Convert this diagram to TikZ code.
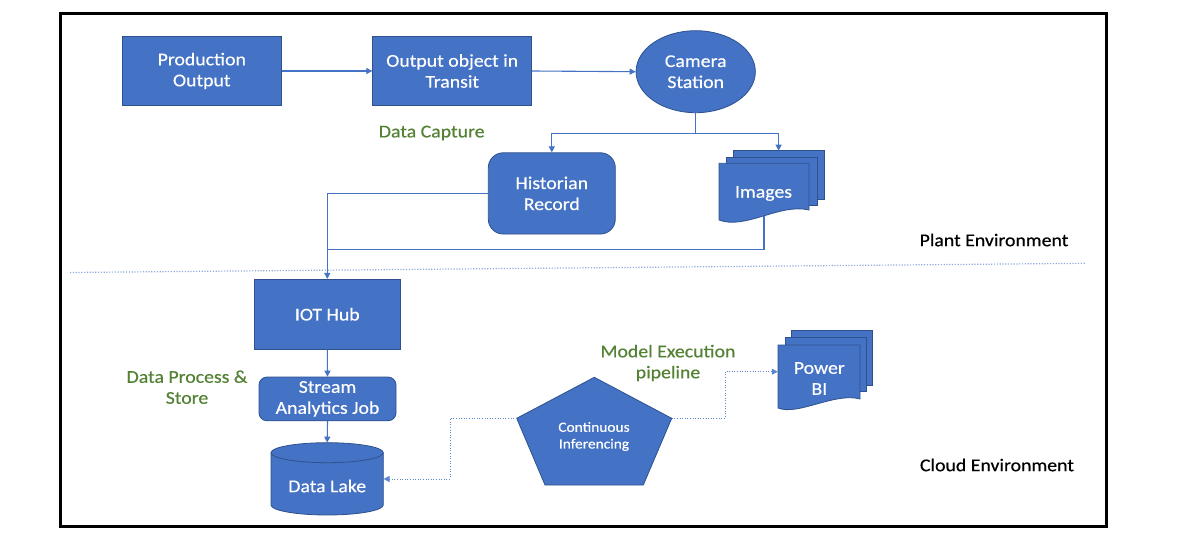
\documentclass[tikz,border=0pt]{standalone}
\usepackage{fontspec}
\setmainfont{Carlito}[FakeStretch=1.1,FakeBold=0.4]
\usetikzlibrary{arrows.meta,shapes.geometric,calc}
\definecolor{fillblue}{HTML}{4472C4}
\definecolor{edgeblue}{HTML}{2F528F}
\definecolor{linkblue}{HTML}{4472C4}
\definecolor{dotblue}{HTML}{5B86D0}
\definecolor{sepblue}{HTML}{8FAADC}
\definecolor{labgreen}{HTML}{548235}
\newcommand{\lblfont}{\fontsize{18}{21}\selectfont}
\newcommand{\smallfont}{\fontsize{14}{16.7}\selectfont}
\begin{document}
\begin{tikzpicture}[x=1pt,y=-1pt,
  box/.style={draw=edgeblue, fill=fillblue, line width=0.8pt, text=white, align=center, inner sep=0pt, font=\lblfont},
  shapestyle/.style={draw=edgeblue, fill=fillblue, line width=0.8pt},
  anchorbox/.style={draw=none, inner sep=0pt},
  wlabel/.style={text=white, align=center, inner sep=0pt, font=\lblfont},
  glabel/.style={text=labgreen, align=center, inner sep=0pt, font=\lblfont},
  klabel/.style={text=black, align=center, inner sep=0pt, font=\lblfont},
  link/.style={draw=linkblue, line width=1.1pt},
  conn/.style={link, -{Triangle[length=6pt,width=6pt]}},
  dotconn/.style={draw=dotblue, line width=1pt, dash pattern=on 1pt off 1.6pt, -{Triangle[length=6pt,width=6pt]}}
]
\useasboundingbox (0,0) rectangle (1200,538);
\fill[white] (0,0) rectangle (1200,538);

% outer frame
\draw[line width=3pt, black] (60,13.3) rectangle (1106,526);

% separator
\draw[sepblue, line width=1.2pt, dash pattern=on 1.2pt off 1.6pt] (70,272.5) -- (1085,263.3);

% top row
\node[box, minimum width=159pt, minimum height=69pt] (prod) at (201.8,71) {Production\\Output};
\node[box, minimum width=159pt, minimum height=69pt] (trans) at (452.2,71) {Output object in\\Transit};
\node[box, ellipse, minimum width=119.3pt, minimum height=82pt] (cam) at (695.7,71.7) {Camera\\Station};

% historian
\node[box, rounded corners=15pt, minimum width=127pt, minimum height=81.3pt] (hist) at (551.8,193.4) {Historian\\Record};

% images stack
\filldraw[shapestyle] (733,150.7) rectangle (824,199.3);
\filldraw[shapestyle] (726,157) rectangle (817,205);
\filldraw[shapestyle] (719,163.3) -- (809,163.3) -- (809,210) .. controls (780,203) and (745,230) .. (719,220) -- cycle;
\coordinate (imgtop) at (778.6,150.7);
\node[anchorbox, minimum width=90pt, minimum height=53pt] (img) at (764,189.6) {};
\node[wlabel] (imglbl) at (763.5,193.5) {Images};

% cloud side
\node[box, minimum width=146.7pt, minimum height=70pt] (iot) at (327.3,314.3) {IOT Hub};
\node[box, rounded corners=8pt, minimum width=137pt, minimum height=43.7pt] (stream) at (327.5,398.9) {Stream\\Analytics Job};

% data lake cylinder
\filldraw[shapestyle] (271,452.7) -- (271,505) arc[start angle=180, end angle=360, x radius=56.15pt, y radius=10pt] -- (383.3,452.7) arc[start angle=0, end angle=180, x radius=56.15pt, y radius=10pt] -- cycle;
\draw[draw=edgeblue, line width=0.8pt] (271,452.7) arc[start angle=180, end angle=360, x radius=56.15pt, y radius=10pt];
\node[anchorbox, minimum width=112.3pt, minimum height=72.3pt] (lake) at (327.2,479) {};
\node[wlabel] (lakelbl) at (327.2,486) {Data Lake};

% pentagon
\coordinate (ciT) at (594.3,377.3);
\coordinate (ciR) at (671.7,418.3);
\coordinate (ciBR) at (643.3,485);
\coordinate (ciBL) at (545,485);
\coordinate (ciL) at (516.7,418.3);
\filldraw[shapestyle] (ciT) -- (ciR) -- (ciBR) -- (ciBL) -- (ciL) -- cycle;
\node[wlabel, font=\smallfont] (ci) at (594,436.5) {Continuous\\Inferencing};

% power bi stack
\filldraw[shapestyle] (791.7,330.7) rectangle (872.7,385);
\filldraw[shapestyle] (785.7,337.3) rectangle (866.7,391.7);
\filldraw[shapestyle] (778,345) -- (860,345) -- (860,399) .. controls (835,392) and (798,416) .. (778,408) -- cycle;
\node[anchorbox, minimum width=82pt, minimum height=53.4pt] (pbi) at (819,371.7) {};
\node[wlabel] (pbilbl) at (819.3,378.5) {Power\\BI};

% labels
\node[glabel] (lcap) at (431.7,133) {Data Capture};
\node[glabel] (lproc) at (187,387.2) {Data Process \&\\Store};
\node[glabel] (lmodel) at (668,363) {Model Execution\\pipeline};
\node[klabel] (lplant) at (994,240) {Plant Environment};
\node[klabel] (lcloud) at (997,465) {Cloud Environment};

% connectors
\draw[conn] (prod.east) -- (trans.west);
\draw[conn] (trans.east) -- (cam.west);
\draw[link] (cam.south) -- ++(0,20.6) coordinate (split);
\draw[conn] (split) -| (hist.north);
\draw[conn] (split) -| (imgtop);
\draw[conn] (hist.west) -| (iot.north);
\coordinate (join) at (327.3,249.3);
\draw[link] (img.south) |- (join);
\draw[conn] (iot.south) -- (stream.north);
\draw[conn] (stream.south) -- (lake.north);
\draw[dotconn] (ciL) -- ++(-66.7,0) |- (lake.east);
\draw[dotconn] (ciR) -- ++(53.3,0) |- (pbi.west);
\end{tikzpicture}
\end{document}
